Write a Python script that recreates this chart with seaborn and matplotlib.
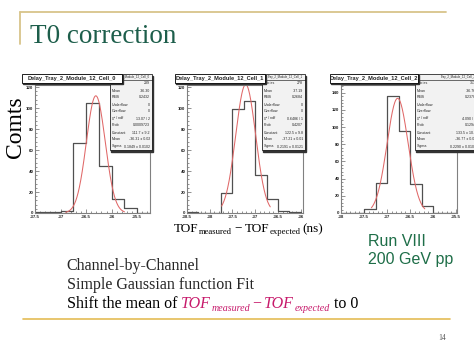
import numpy as np
import pandas as pd
import matplotlib
matplotlib.use('Agg')
import matplotlib.pyplot as plt
import seaborn as sns
from matplotlib.patches import Rectangle
from matplotlib.ticker import MultipleLocator, FuncFormatter

sns.set_theme(style='ticks')
plt.rcParams['font.family'] = ['Liberation Sans', 'DejaVu Sans']

# histogram data (bin width 0.25 ns), one list per cell
cells = ['Delay_Tray_2_Module_12_Cell_0', 'Delay_Tray_2_Module_12_Cell_1', 'Delay_Tray_2_Module_12_Cell_2']
bin_start = [-37.5, -38.5, -38.0]
bin_width = 0.25
counts_0 = [1, 1, 2, 67, 105, 45, 13, 5, 0]
counts_1 = [1, 0, 0, 19, 99, 107, 36, 13, 2, 1]
counts_2 = [0, 0, 5, 35, 136, 95, 34, 8, 0, 0]
counts = [counts_0, counts_1, counts_2]

# gaussian fit results
fit_const = [111.7, 122.5, 133.5]
fit_mean = [-36.31, -37.21, -36.77]
fit_sigma = [0.1849, 0.2191, 0.2290]
fit_range = [(-36.90, -35.75), (-37.74, -36.67), (-37.34, -36.18)]

# axis ranges
x_range = [(-37.5, -35.25), (-38.5, -35.95), (-38.0, -35.48)]
y_range = [(0, 122), (0, 122), (0, 149)]

# stat box text
stat_labels = ['Entries', 'Mean', 'RMS', 'Underflow', 'Overflow', 'χ² / ndf', 'Prob', 'Constant', 'Mean', 'Sigma']
stat_values = [
    ['239', '-36.30', '0.2432', '0', '0', '13.07 / 2', '0.0009723', '111.7 ± 9.2', '-36.31 ± 0.02', '0.1849 ± 0.0102'],
    ['278', '-37.19', '0.2684', '0', '0', '0.6486 / 1', '0.4207', '122.5 ± 9.8', '-37.21 ± 0.01', '0.2191 ± 0.0121'],
    ['313', '-36.76', '0.2378', '0', '0', '4.090 / 2', '0.1294', '133.5 ± 10.1', '-36.77 ± 0.01', '0.2290 ± 0.0105'],
]

W, H = 474, 355
fig = plt.figure(figsize=(W / 100, H / 100), dpi=100)
fig.patch.set_facecolor('white')

def px_axes(x0, x1, y0, y1, **kw):
    return fig.add_axes([x0 / W, 1 - y1 / H, (x1 - x0) / W, (y1 - y0) / H], **kw)

frames = [(35, 150), (187, 303), (341, 457)]
fmt = FuncFormatter(lambda v, p: f'{v:g}')

for i in range(3):
    ax = px_axes(frames[i][0], frames[i][1], 85, 213)
    c = counts[i]
    edges = bin_start[i] + bin_width * np.arange(len(c) + 1)
    df = pd.DataFrame({'tof': edges[:-1] + bin_width / 2, 'n': c})
    sns.histplot(data=df, x='tof', weights='n', bins=list(edges), element='step', fill=False,
                 color='#505050', linewidth=0.9, ax=ax)
    xs = np.linspace(fit_range[i][0], fit_range[i][1], 200)
    ys = fit_const[i] * np.exp(-0.5 * ((xs - fit_mean[i]) / fit_sigma[i]) ** 2)
    sns.lineplot(x=xs, y=ys, color='#e06868', linewidth=0.75, ax=ax)
    ax.set_xlim(*x_range[i])
    ax.set_ylim(*y_range[i])
    ax.set_xlabel('')
    ax.set_ylabel('')
    ax.xaxis.set_major_locator(MultipleLocator(0.5))
    ax.xaxis.set_minor_locator(MultipleLocator(0.1))
    ax.yaxis.set_major_locator(MultipleLocator(20))
    ax.yaxis.set_minor_locator(MultipleLocator(4))
    ax.xaxis.set_major_formatter(fmt)
    ax.yaxis.set_major_formatter(fmt)
    ax.tick_params(which='both', direction='in', top=False, right=False,
                   colors='#555555', labelcolor='#222222', labelsize=3.2, pad=1.2, width=0.45)
    ax.tick_params(which='major', length=3)
    ax.tick_params(which='minor', length=1.5)
    for lbl in ax.get_xticklabels() + ax.get_yticklabels():
        lbl.set_fontweight('bold')
    for s in ax.spines.values():
        s.set_color('#808080')
        s.set_linewidth(0.8)

# overlay in pixel coordinates for slide decorations and ROOT boxes
ov = fig.add_axes([0, 0, 1, 1], zorder=10)
ov.set_xlim(0, W)
ov.set_ylim(H, 0)
ov.axis('off')
ov.patch.set_alpha(0)

stat_boxes = [(110, 152), (262, 305), (415, 478)]
title_boxes = [(22, 122), (175, 265), (330, 418)]
for i in range(3):
    x0, x1 = stat_boxes[i]
    y0, y1 = 74, 150
    t0, t1 = title_boxes[i]
    ov.add_patch(Rectangle((x0 + 1.5, y0 + 1.5), x1 - x0, y1 - y0, color='#333333', zorder=1))
    ov.add_patch(Rectangle((x0, y0), x1 - x0, y1 - y0, facecolor='#f2f2f2', edgecolor='black', lw=0.5, zorder=2))
    ov.plot([x0, x1], [y0 + 6, y0 + 6], color='black', lw=0.4, zorder=3)
    ov.text(x1 - 1.5, y0 + 3.2, cells[i][6:], fontsize=2.1, ha='right', va='center', zorder=3)
    rh = (y1 - y0 - 6) / 10
    for k in range(10):
        yy = y0 + 6 + rh * (k + 0.5)
        ov.text(x0 + 2, yy, stat_labels[k], fontsize=2.6, ha='left', va='center', zorder=3)
        ov.text(x1 - 2, yy, stat_values[i][k], fontsize=2.6, ha='right', va='center', zorder=3)
    ov.add_patch(Rectangle((t0 + 1.2, 74 + 1.2), t1 - t0, 9, color='#333333', zorder=4))
    ov.add_patch(Rectangle((t0, 74), t1 - t0, 9, facecolor='white', edgecolor='black', lw=0.6, zorder=5))
    ov.text((t0 + t1) / 2, 78.7, cells[i], fontsize=4.1, fontweight='bold', color='#222222',
            ha='center', va='center', zorder=6)

gold = '#d8c48a'
ov.plot([20, 446], [11.7, 11.7], color=gold, lw=1.3)
ov.plot([19.7, 19.7], [11.7, 43.5], color=gold, lw=1.3)
ov.plot([23, 450], [319, 319], color='#e4bc55', lw=1.2)

serif = ['Liberation Serif', 'DejaVu Serif']
renderer = fig.canvas.get_renderer()

def run_text(x, y, pieces):
    # pieces: (text, size, color, style, lift, gap_before)
    for s, size, color, style, lift, gap in pieces:
        x += gap
        t = ov.text(x, y - lift, s, fontsize=size, color=color, family=serif, style=style, va='baseline')
        x += t.get_window_extent(renderer).width
    return x

ov.text(30, 42.7, 'T0 correction', fontsize=19.5, family=serif, color='#1d5e4b', va='baseline')
ov.text(15.5, 127, 'Comts', rotation=90, fontsize=17, family=serif, color='black', ha='center', va='center')

run_text(174, 232, [
    ('TOF', 9.5, 'black', 'normal', 0, 0),
    ('measured', 6.2, 'black', 'normal', -2.5, 0.3),
    ('−', 9.5, 'black', 'normal', 0, 2.5),
    ('TOF', 9.5, 'black', 'normal', 0, 2.5),
    ('expected', 6.2, 'black', 'normal', -2.5, 0.3),
    ('(ns)', 9.5, 'black', 'normal', 0, 2.0),
])

mag = '#c71a6b'
run_text(66.7, 308, [
    ('Shift the mean of', 11.5, 'black', 'normal', 0, 0),
    ('TOF', 11.5, mag, 'italic', 0, 4.0),
    ('measured', 7.2, mag, 'italic', -3.2, 0.4),
    ('−', 11.5, mag, 'normal', 0, 2.5),
    ('TOF', 11.5, mag, 'italic', 0, 2.5),
    ('expected', 7.2, mag, 'italic', -3.2, 0.4),
    ('to 0', 11.5, 'black', 'normal', 0, 4.5),
])

ov.text(368, 246, 'Run VIII', fontsize=11.5, color='#1e6e48', va='baseline', family=['Liberation Sans'])
ov.text(368, 264, '200 GeV pp', fontsize=11.5, color='#1e6e48', va='baseline', family=['Liberation Sans'])
ov.text(66.7, 270, 'Channel-by-Channel', fontsize=11.5, family=serif, va='baseline')
ov.text(66.7, 289, 'Simple Gaussian function Fit', fontsize=11.5, family=serif, va='baseline')
ov.text(441.7, 340, '14', fontsize=5.5, family=serif, color='#555555', ha='center', va='baseline')

fig.savefig('out.png', dpi=100)
